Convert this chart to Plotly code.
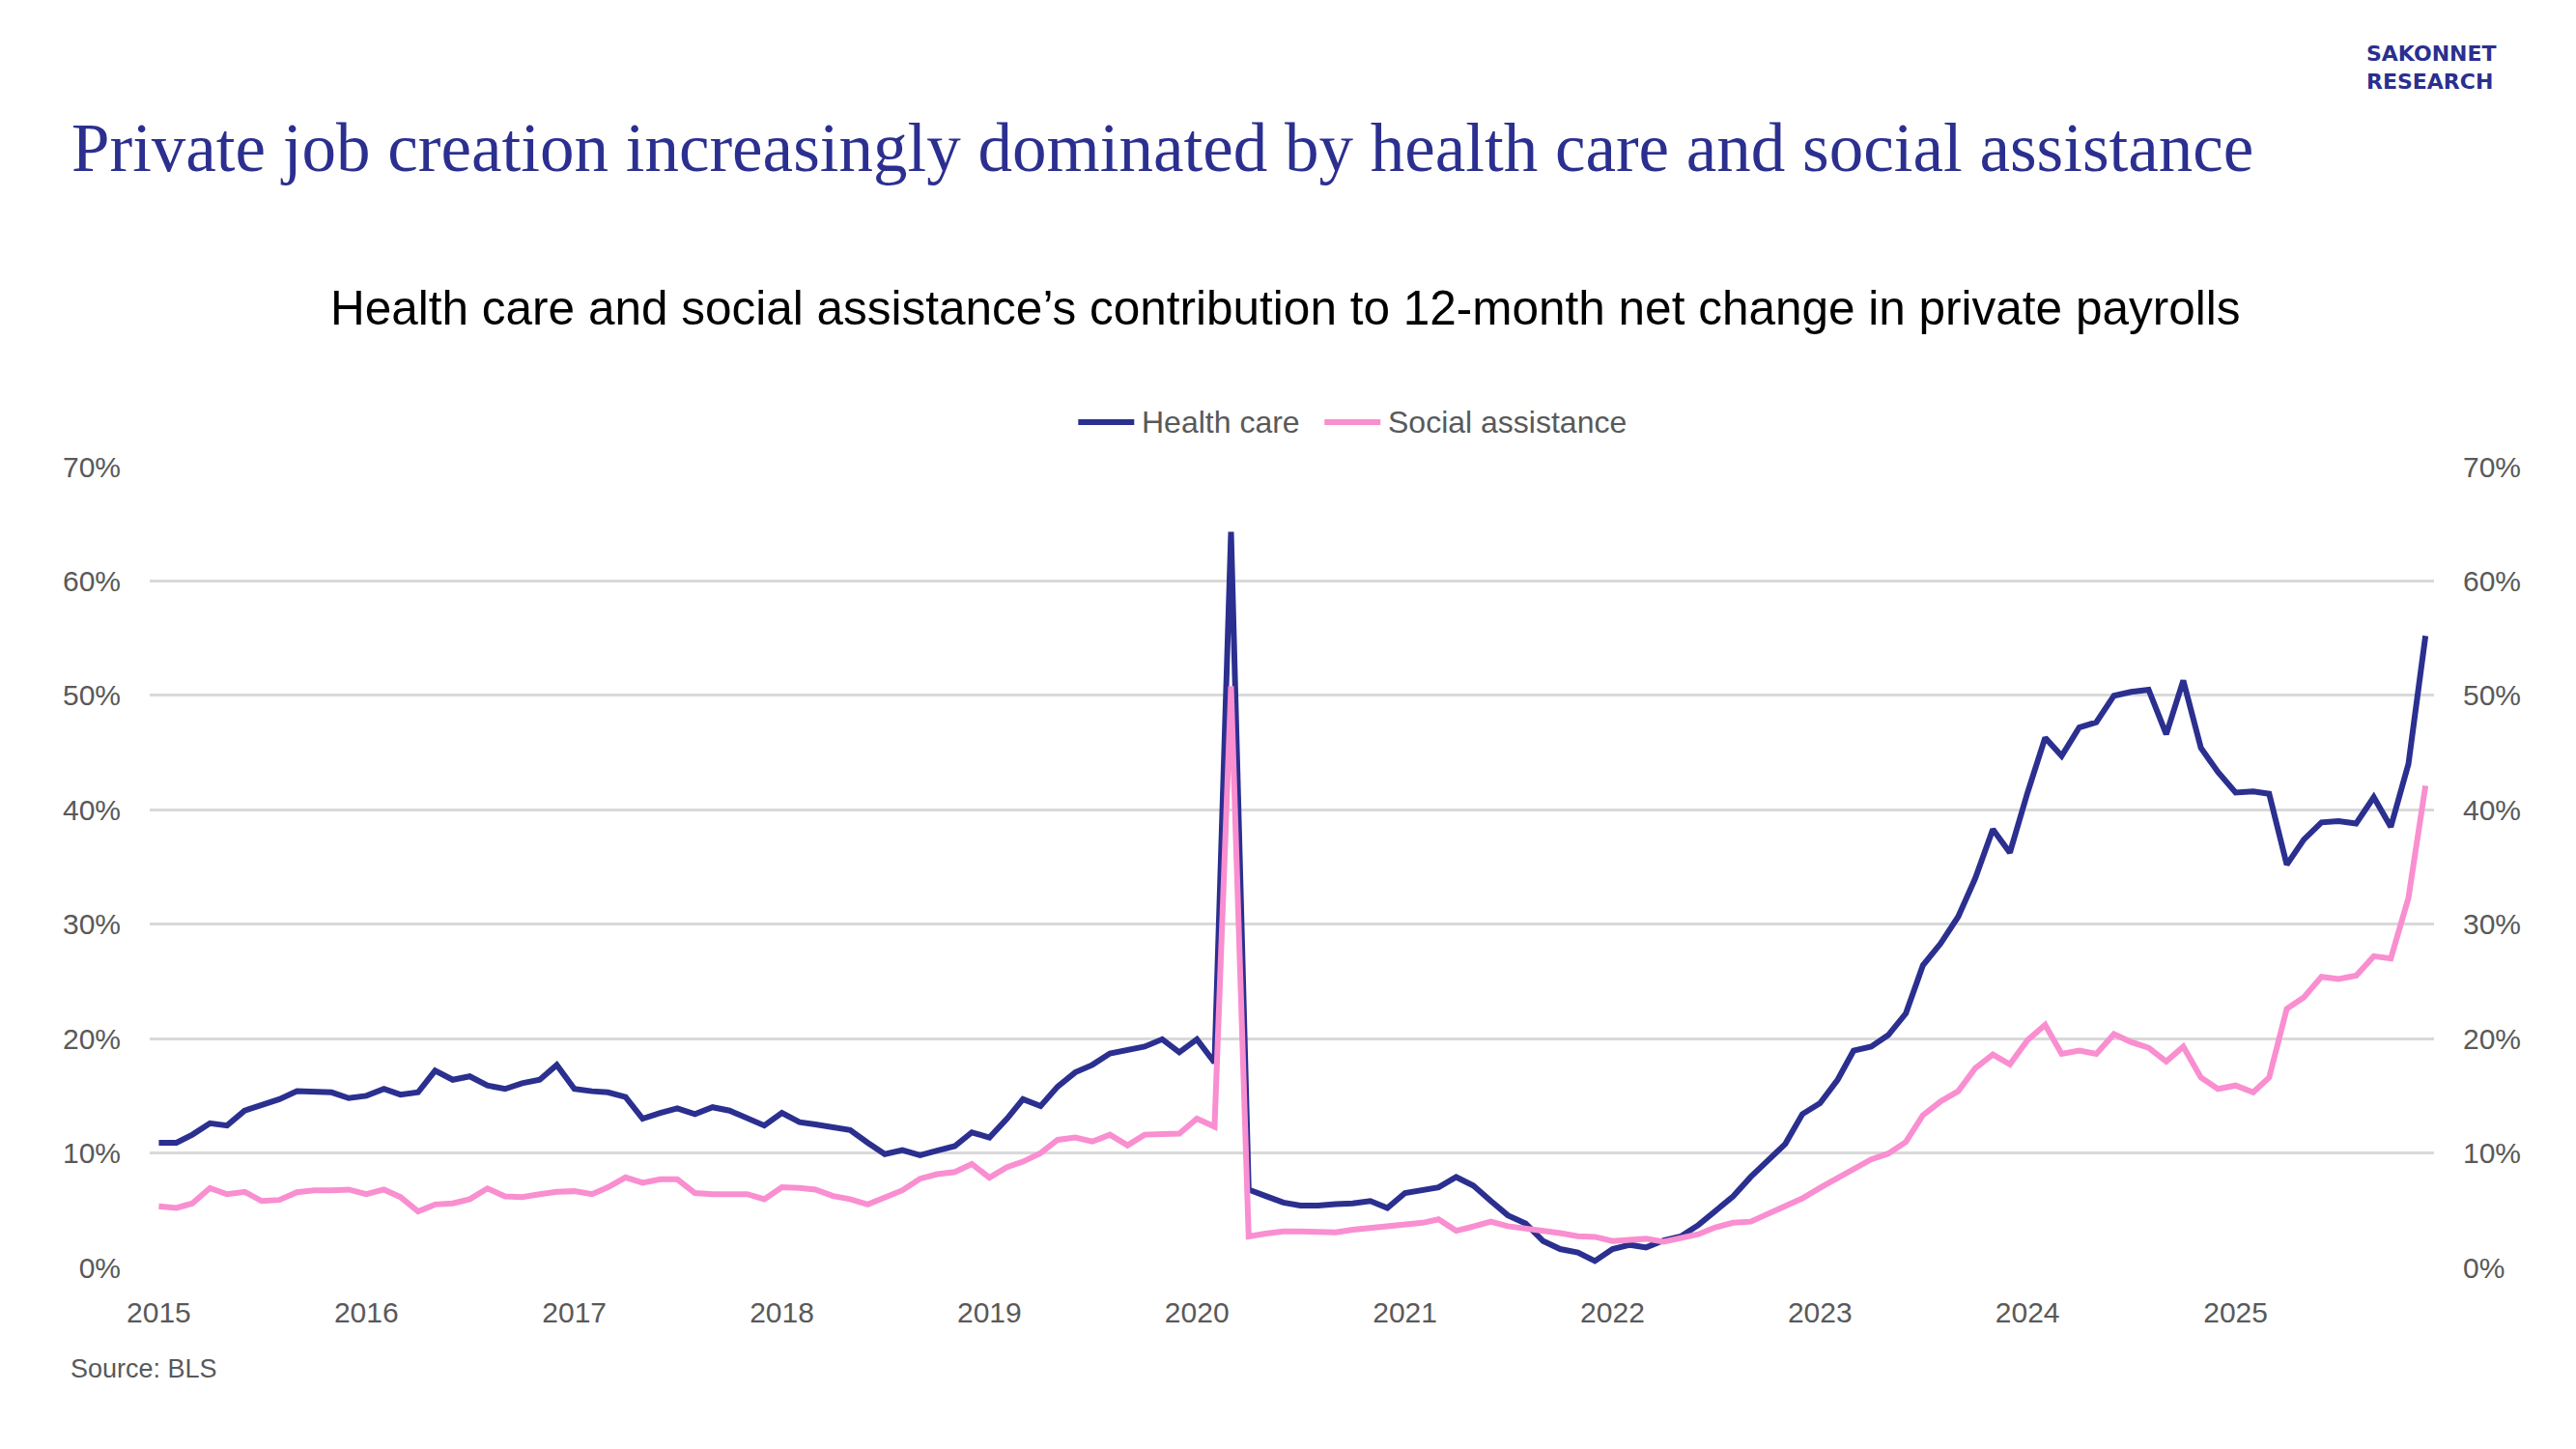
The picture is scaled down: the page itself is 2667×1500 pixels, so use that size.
import pandas as pd
import plotly.graph_objects as go

# ---------------- data ----------------
months = pd.date_range("2015-01-01", "2025-12-01", freq="MS")

health_care = [
    10.9, 10.9, 11.6, 12.6, 12.4, 13.7, 14.2, 14.7, 15.4, 15.4, 15.3, 14.8,
    15.0, 15.6, 15.1, 15.3, 17.2, 16.4, 16.7, 15.9, 15.6, 16.1, 16.4, 17.7,
    15.6, 15.4, 15.3, 14.9, 13.0, 13.5, 13.9, 13.4, 14.0, 13.7, 13.0, 12.4,
    13.5, 12.7, 12.5, 12.3, 12.0, 10.9, 9.9, 10.25, 9.8, 10.2, 10.6, 11.8,
    11.35, 13.0, 14.7, 14.1, 15.8, 17.05, 17.7, 18.7, 18.96, 19.3, 19.94, 18.8,
    19.94, 17.9, 64.3, 6.8, 6.24, 5.67, 5.4, 5.4, 5.53, 5.6, 5.8, 5.2,
    6.5, 6.8, 7.0, 7.9, 7.16, 5.8, 4.55, 3.85, 2.3, 1.6, 1.3, 0.56,
    1.6, 1.97, 1.74, 2.36, 2.7, 3.7, 4.9, 6.2, 7.9, 9.4, 10.8, 13.4,
    14.36, 16.4, 18.94, 19.3, 20.3, 22.2, 26.4, 28.3, 30.65, 34.0, 38.3, 36.25,
    41.5, 46.3, 44.7, 47.2, 47.65, 49.97, 50.3, 50.5, 46.6, 51.3, 45.4, 43.3,
    41.5, 41.6, 41.4, 35.2, 37.4, 38.9, 39.0, 38.8, 41.1, 38.5, 44.0, 55.2,
]

social_assistance = [
    5.34, 5.2, 5.6, 6.94, 6.4, 6.6, 5.8, 5.9, 6.57, 6.74, 6.74, 6.8,
    6.4, 6.8, 6.15, 4.9, 5.5, 5.6, 5.96, 6.9, 6.2, 6.15, 6.4, 6.6,
    6.66, 6.4, 7.0, 7.87, 7.4, 7.7, 7.7, 6.5, 6.4, 6.4, 6.4, 5.96,
    7.0, 6.94, 6.8, 6.24, 5.96, 5.5, 6.1, 6.74, 7.75, 8.15, 8.34, 9.04,
    7.84, 8.76, 9.24, 10.0, 11.15, 11.35, 11.0, 11.6, 10.67, 11.6, 11.66, 11.7,
    13.0, 12.3, 50.8, 2.7, 2.95, 3.15, 3.15, 3.15, 3.06, 3.29, 3.43, 3.5,
    3.7, 3.9, 4.2, 3.2, 3.57, 4.0, 3.6, 3.4, 3.29, 3.0, 2.72, 2.67,
    2.3, 2.4, 2.5, 2.25, 2.55, 2.9, 3.5, 3.9, 4.0, 4.7, 5.36, 6.04,
    6.96, 7.8, 8.6, 9.44, 9.95, 10.96, 13.3, 14.5, 15.4, 17.4, 18.6, 17.75,
    19.86, 21.2, 18.67, 18.95, 18.67, 20.4, 19.7, 19.2, 18.0, 19.3, 16.6, 15.6,
    15.9, 15.3, 16.6, 22.6, 23.6, 25.4, 25.2, 25.5, 27.2, 27.0, 32.3, 42.1,
]

series_names = ["Health care", "Social assistance"]
year_ticks = [f"{y}-01-01" for y in range(2015, 2026)]
year_labels = [str(y) for y in range(2015, 2026)]
y_ticks = [0, 10, 20, 30, 40, 50, 60, 70]
y_labels = [f"{v}%" for v in y_ticks]

# ---------------- layout helpers ----------------
W, H = 2667, 1500
L, R, T, B = 154.5, 2520, 483, 1312


def px(x):
    return (x - L) / (R - L)


def py(y):
    return (B - y) / (B - T)


NAVY = "#2B2F8F"
PINK = "#F98ED0"
GRAY = "#595959"
SANS = "Liberation Sans, Arial, sans-serif"

fig = go.Figure()
fig.add_trace(go.Scatter(
    x=months, y=health_care, name=series_names[0], mode="lines",
    line=dict(color=NAVY, width=6), yaxis="y", showlegend=False,
))
fig.add_trace(go.Scatter(
    x=months, y=social_assistance, name=series_names[1], mode="lines",
    line=dict(color=PINK, width=6), yaxis="y2", showlegend=False,
))

axis_y = dict(
    range=[0, 70], tickvals=y_ticks, ticktext=y_labels,
    showgrid=True, gridcolor="#D9D9D9", gridwidth=2.5,
    zeroline=False, showline=False, ticks="",
    tickfont=dict(family=SANS, size=30, color=GRAY),
    ticklabelstandoff=29, fixedrange=True,
)

# manual legend (line swatch + label)
legend_items = [(1116, 1174, 1180, NAVY, series_names[0]),
                (1371, 1429, 1435, PINK, series_names[1])]
shapes = []
legend_annots = []
for x0, x1, xt, col, name in legend_items:
    shapes.append(dict(type="line", xref="paper", yref="paper",
                       x0=px(x0), x1=px(x1), y0=py(437), y1=py(437),
                       line=dict(color=col, width=6)))
    legend_annots.append(dict(text=name, x=px(xt), y=py(437), xref="paper", yref="paper",
                              xanchor="left", yanchor="middle", showarrow=False,
                              font=dict(family=SANS, size=32, color=GRAY)))

fig.update_layout(
    width=W, height=H,
    margin=dict(l=L, r=W - R, t=T, b=H - B, pad=0),
    paper_bgcolor="white", plot_bgcolor="white",
    showlegend=False,
    xaxis=dict(
        range=["2014-12-16", "2025-12-16"], tickvals=year_ticks, ticktext=year_labels,
        showgrid=False, zeroline=False, showline=False, ticks="",
        tickfont=dict(family=SANS, size=30, color=GRAY), ticklabelstandoff=26,
    ),
    yaxis=axis_y,
    yaxis2=dict(axis_y, overlaying="y", side="right", showgrid=False),
    shapes=shapes,
    annotations=legend_annots + [
        dict(text="Private job creation increasingly dominated by health care and social assistance",
             x=px(71), y=py(153), xref="paper", yref="paper", xanchor="left", yanchor="middle",
             showarrow=False, font=dict(family="Liberation Serif, DejaVu Serif, serif", size=71, color=NAVY)),
        dict(text="<b>SAKONNET</b><br><b>RESEARCH</b>",
             x=px(2587), y=py(70), xref="paper", yref="paper", xanchor="right", yanchor="middle",
             showarrow=False, align="left",
             font=dict(family="DejaVu Sans, sans-serif", size=22, color=NAVY)),
        dict(text="Health care and social assistance\u2019s contribution to 12-month net change in private payrolls",
             x=px(1330), y=py(318), xref="paper", yref="paper", xanchor="center", yanchor="middle",
             showarrow=False, font=dict(family=SANS, size=49.5, color="black")),
        dict(text="Source: BLS",
             x=px(70), y=py(1417), xref="paper", yref="paper", xanchor="left", yanchor="middle",
             showarrow=False, font=dict(family=SANS, size=27, color=GRAY)),
    ],
)

fig.write_html("out.html")
